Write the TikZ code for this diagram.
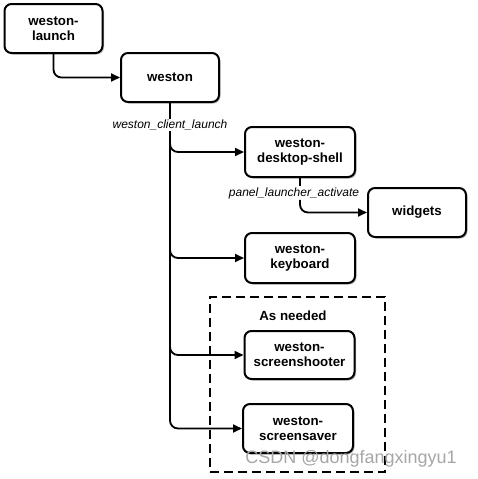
\documentclass[tikz,border=0pt]{standalone}
\usepackage{fontspec}
\setmainfont{Liberation Sans}
\usetikzlibrary{positioning,arrows.meta,shadows}

\begin{document}
\begin{tikzpicture}[x=1pt,y=-1pt,
                thick,
                comp/.style n args={2}{draw,line width=2pt,fill=white,
                    minimum width=#1pt,
                    minimum height=#2pt,
                    rounded corners=7pt,
                    align=center,
                    font=\fontsize{13.3}{15}\selectfont\bfseries,
                    drop shadow={shadow xshift=1.5pt,shadow yshift=-1.5pt,fill=black!50}},
                call/.style={font=\fontsize{12}{14}\selectfont\itshape,inner sep=1pt},
                link/.style={line width=1.8pt,rounded corners=8pt,
                    -{Triangle[length=9pt,width=8pt]}}]
                \useasboundingbox (0,0) rectangle (477,479);
                \node[draw,line width=2pt,dash pattern=on 9pt off 5pt,
                    minimum width=175pt,minimum height=175pt] (needed) at (297.5,384.5) {};
                \node[font=\fontsize{13.3}{15}\selectfont\bfseries] (neededlbl) at (293,316) {As needed};
                \node[comp={98}{49}](launch) at (53.5,28.5) {weston-\\launch};
                \node[comp={98}{49}](weston) at (170,77.5) {weston};
                \node[call](wcl) at (170,125) {weston\_client\_launch};
                \node[comp={110}{50}](shell) at (300,152) {weston-\\desktop-shell};
                \node[call](pla) at (294,193) {panel\_launcher\_activate};
                \node[comp={98}{49}](widgets) at (417,212.5) {widgets};
                \node[comp={110}{50}](kbd) at (300,258) {weston-\\keyboard};
                \node[comp={110}{48}](shooter) at (299.5,355) {weston-\\screenshooter};
                \node[comp={110}{49}](saver) at (298,428.5) {weston-\\screensaver};
                \draw[link] (launch.south) |- (weston.west);
                \draw[line width=1.8pt] (weston.south) -- (wcl.north);
                \draw[link] (wcl.south) |- (shell.west);
                \draw[link] (wcl.south) |- (kbd.west);
                \draw[link] (wcl.south) |- (shooter.west);
                \draw[link] (wcl.south) |- (saver.west);
                \draw[line width=1.8pt] (shell.south) -- (shell.south |- pla.north);
                \draw[link] (shell.south |- pla.south) |- (widgets.west);
                \node[text=black!35,font=\fontsize{18}{18}\selectfont] (mark) at (351,459) {CSDN @dongfangxingyu1};
            \end{tikzpicture}
\end{document}
